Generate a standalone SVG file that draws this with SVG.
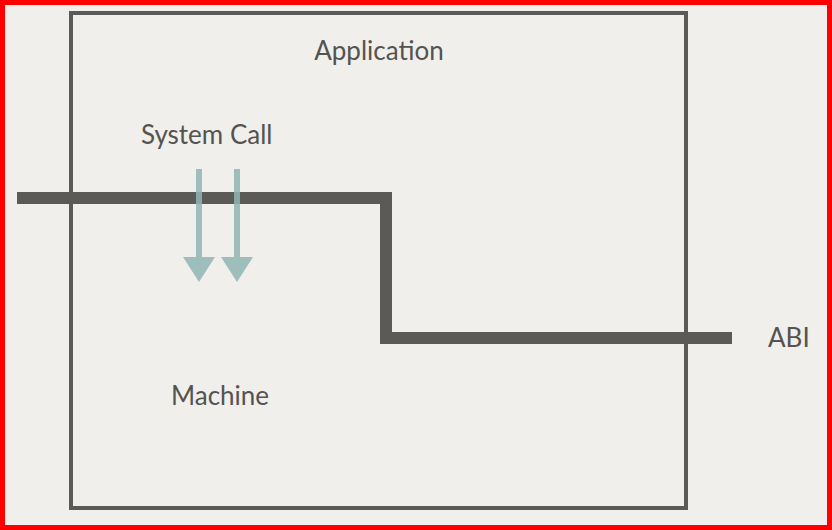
<svg xmlns="http://www.w3.org/2000/svg" width="832" height="530" viewBox="0 0 832 530">
<style>
text{font-family:Lato,"Open Sans",sans-serif;font-size:26px;fill:#555350}
.arrow{fill:#8fb5b3;opacity:0.85}
</style>
<rect x="0" y="0" width="832" height="530" fill="#f0efec"/>
<rect x="2.5" y="2.5" width="827" height="525" fill="none" stroke="#ff0000" stroke-width="5"/>
<g id="application">
<rect x="71" y="13" width="615" height="495" fill="none" stroke="#5c5a56" stroke-width="4"/>
<text x="379" y="60" text-anchor="middle">Application</text>
</g>
<g id="machine"><text x="220" y="405" text-anchor="middle">Machine</text></g>
<g id="syscall"><text x="141" y="144">System Call</text></g>
<g id="abi"><text x="768" y="347">ABI</text></g>
<g id="connectors">
<path d="M17 198 H386 V338 H732" fill="none" stroke="#5c5a56" stroke-width="12"/>
<path class="arrow" d="M196 169 h6 v88 h13 l-16 25 l-16 -25 h13 z"/>
<path class="arrow" d="M234 169 h6 v88 h13 l-16 25 l-16 -25 h13 z"/>
</g>
</svg>
